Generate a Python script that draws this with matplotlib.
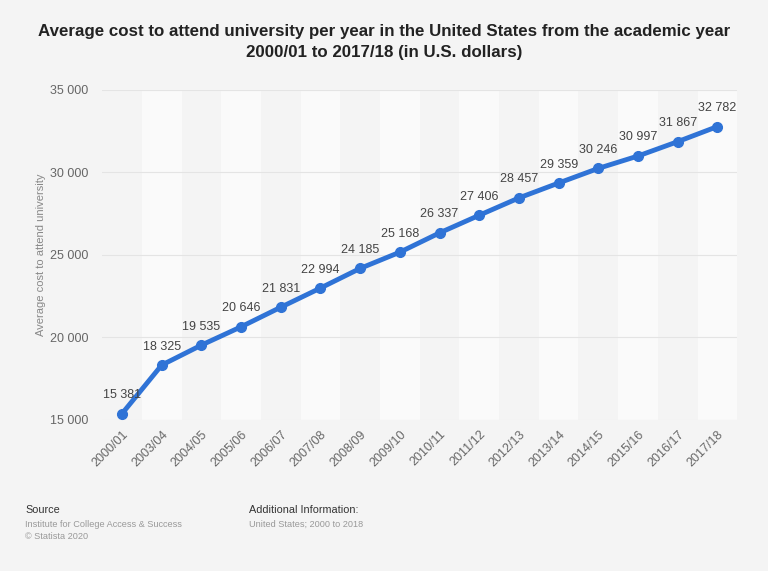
import matplotlib.pyplot as plt
from matplotlib.ticker import FuncFormatter

# Data
years = ['2000/01', '2003/04', '2004/05', '2005/06', '2006/07', '2007/08',
         '2008/09', '2009/10', '2010/11', '2011/12', '2012/13', '2013/14',
         '2014/15', '2015/16', '2016/17', '2017/18']
cost = [15381, 18325, 19535, 20646, 21831, 22994, 24185, 25168, 26337,
        27406, 28457, 29359, 30246, 30997, 31867, 32782]

plt.rcParams['font.family'] = ['Liberation Sans', 'DejaVu Sans']

bg = '#f4f4f4'
fig = plt.figure(figsize=(7.68, 5.71), dpi=100, facecolor=bg)
ax = fig.add_axes([0.133, 0.2645, 0.827, 0.578])
ax.set_facecolor(bg)

x = list(range(len(years)))

# alternating column bands
for i in x:
    if i % 2 == 1:
        ax.axvspan(i - 0.5, i + 0.5, color='#fafafa', zorder=0, lw=0)

ax.plot(x, cost, color='#2f73d6', lw=3.5, marker='o', ms=7, zorder=3,
        solid_capstyle='round')

for xi, v in zip(x, cost):
    ax.annotate(f'{v:,}'.replace(',', ' '), (xi, v), xytext=(0, 9),
                textcoords='offset points', ha='center', va='bottom',
                fontsize=9, color='#444444', zorder=4)

ax.set_xlim(-0.5, len(years) - 0.5)
ax.set_ylim(15000, 35000)
ax.set_yticks([15000, 20000, 25000, 30000, 35000])
ax.yaxis.set_major_formatter(FuncFormatter(lambda v, p: f'{int(v):,}'.replace(',', ' ')))
ax.set_xticks(x)
ax.set_xticklabels(years, rotation=45, ha='right', rotation_mode='anchor')
ax.tick_params(axis='both', length=0, labelsize=9, colors='#666666')
ax.tick_params(axis='x', pad=6)
ax.tick_params(axis='y', pad=10)
ax.grid(axis='y', color='#e4e4e4', lw=0.8, zorder=1)
for s in ax.spines.values():
    s.set_visible(False)

ax.set_ylabel('Average cost to attend university', fontsize=8, color='#888888')
ax.yaxis.set_label_coords(-0.088, 0.5)

fig.text(0.5, 0.927, 'Average cost to attend university per year in the United States from the academic year\n'
         '2000/01 to 2017/18 (in U.S. dollars)', ha='center', va='center',
         fontsize=12.2, fontweight='bold', color='#222222', linespacing=1.5)

fig.text(0.033, 0.106, 'Source', fontsize=7.8, color='#333333', va='center')
fig.text(0.033, 0.082, 'Institute for College Access & Success', fontsize=6.6, color='#999999', va='center')
fig.text(0.033, 0.061, '\u00a9 Statista 2020', fontsize=6.6, color='#999999', va='center')
fig.text(0.324, 0.106, 'Additional Information:', fontsize=7.8, color='#333333', va='center')
fig.text(0.324, 0.082, 'United States; 2000 to 2018', fontsize=6.6, color='#999999', va='center')

fig.savefig('out.png', dpi=100, facecolor=bg)
